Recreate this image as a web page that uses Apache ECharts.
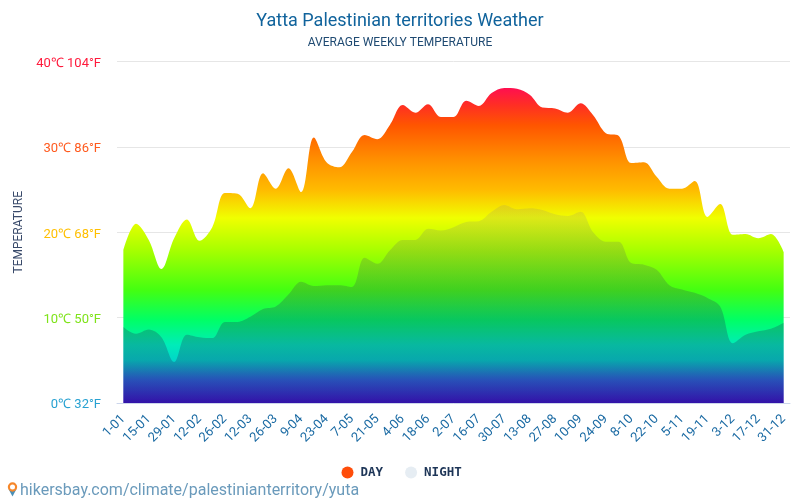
<!DOCTYPE html>
<html><head><meta charset="utf-8">
<style>html,body{margin:0;padding:0;background:#fff}#c{width:800px;height:500px}</style>
<script src="https://cdn.jsdelivr.net/npm/echarts@6/dist/echarts.min.js"></script>
</head><body><div id="c"></div>
<script>
const categories = ['1-01','8-01','15-01','22-01','29-01','5-02','12-02','19-02','26-02','5-03','12-03','19-03','26-03','2-04','9-04','16-04','23-04','30-04','7-05','14-05','21-05','28-05','4-06','11-06','18-06','25-06','2-07','9-07','16-07','23-07','30-07','6-08','13-08','20-08','27-08','3-09','10-09','17-09','24-09','1-10','8-10','15-10','22-10','29-10','5-11','12-11','19-11','26-11','3-12','10-12','17-12','24-12','31-12'];
const dayValues = [17.9,21.0,19.1,15.7,19.3,21.5,19.0,20.6,24.6,24.5,22.8,26.9,25.1,27.5,24.7,31.1,28.2,27.6,29.4,31.4,30.9,32.6,34.9,34.0,35.0,33.5,33.5,35.4,34.8,36.3,36.9,36.8,36.1,34.6,34.5,34.0,35.1,33.7,31.6,31.3,28.1,28.2,26.5,25.1,25.1,26.0,21.8,23.3,19.7,19.8,19.3,19.8,17.7];
const nightValues = [8.9,8.1,8.6,7.7,4.8,8.0,7.7,7.6,9.5,9.5,10.1,11.0,11.3,12.7,14.2,13.7,13.8,13.8,13.6,17.0,16.3,17.9,19.1,19.1,20.4,20.2,20.6,21.2,21.3,22.4,23.2,22.7,22.8,22.6,22.1,21.9,22.4,20.0,18.9,18.9,16.4,16.2,15.6,13.8,13.3,12.9,12.3,11.3,7.0,8.0,8.4,8.7,9.4];
const tempTicks = {0:['0℃ 32°F','#27a1d1'],10:['10℃ 50°F','#7fe31a'],20:['20℃ 68°F','#ffbf00'],30:['30℃ 86°F','#ff5a1e'],40:['40℃ 104°F','#ff1a3c']};
const FONT='Roboto';
const dayGrad = new echarts.graphic.LinearGradient(0,0,0,403,[
 {offset:88/403,color:'#ff0f50'},{offset:105/403,color:'#ff2e24'},{offset:125/403,color:'#ff5500'},
 {offset:160/403,color:'#ff9000'},{offset:190/403,color:'#ffbb00'},{offset:218/403,color:'#f0ff00'},
 {offset:250/403,color:'#a8ff00'},{offset:290/403,color:'#44ff11'},{offset:320/403,color:'#00ff66'},
 {offset:345/403,color:'rgb(0,236,185)'},{offset:360/403,color:'rgb(0,215,200)'},{offset:380/403,color:'rgb(41,103,215)'},{offset:1,color:'rgb(55,23,195)'}],true);
const nightGrad = new echarts.graphic.LinearGradient(0,0,0,403,[
 {offset:215/403,color:'rgba(100,90,180,0.13)'},{offset:250/403,color:'rgba(60,40,120,0.16)'},
 {offset:320/403,color:'rgba(36,0,73,0.22)'},{offset:1,color:'rgba(36,0,73,0.22)'}],true);
const chart = echarts.init(document.getElementById('c'),null,{renderer:'canvas'});
chart.setOption({
 animation:false,
 textStyle:{fontFamily:FONT},
 title:[
  {text:'Yatta Palestinian territories Weather',left:'center',top:7,textStyle:{fontFamily:FONT,fontSize:18,fontWeight:'normal',color:'#10639c'}},
  {text:'AVERAGE WEEKLY TEMPERATURE',left:'center',top:32,textStyle:{fontFamily:FONT,fontSize:12,fontWeight:'normal',color:'#1f4a72'}}
 ],
 legend:{left:336.5,top:461,itemWidth:12,itemHeight:12,itemGap:22,icon:'circle',
  textStyle:{fontFamily:'DejaVu Sans Mono',fontWeight:'bold',fontSize:12.5,color:'#1d3557',padding:[0,0,0,2]},
  data:[{name:'DAY',itemStyle:{color:'#ff4d0a'}},{name:'NIGHT',itemStyle:{color:'#e6edf3'}}]},
 grid:{left:117,right:10,top:61.5,bottom:97,containLabel:false,outerBoundsMode:'none'},
 xAxis:{type:'category',boundaryGap:true,data:categories,
  axisLine:{lineStyle:{color:'#ccd6eb',width:1}},
  axisTick:{alignWithLabel:true,interval:1,length:10,lineStyle:{color:'#ccd6eb'}},
  axisLabel:{interval:1,rotate:45,fontFamily:FONT,fontSize:13,color:'#1a6aa3',margin:14,hideOverlap:false},
  splitLine:{show:false}},
 yAxis:{type:'value',min:0,max:40,interval:10,
  name:'TEMPERATURE',nameLocation:'middle',nameGap:86,nameRotate:90,
  nameTextStyle:{fontFamily:FONT,fontSize:12,color:'#3a4b6b'},
  axisLine:{show:false},axisTick:{show:false},
  splitLine:{lineStyle:{color:'#e6e6e6',width:1}},
  axisLabel:{margin:16,fontFamily:FONT,fontSize:13,
   formatter:v=>'{t'+v+'|'+tempTicks[v][0]+'}',
   rich:Object.fromEntries(Object.keys(tempTicks).map(k=>['t'+k,{color:tempTicks[k][1],fontFamily:FONT,fontSize:13,padding:[4,0,0,0]}]))}},
 series:[
  {name:'DAY',type:'line',data:dayValues,smooth:0.35,showSymbol:false,lineStyle:{width:0},itemStyle:{color:'#ff4d0a'},areaStyle:{color:dayGrad,opacity:1},z:2},
  {name:'NIGHT',type:'line',data:nightValues,smooth:0.35,showSymbol:false,lineStyle:{width:0},itemStyle:{color:'#e6edf3'},areaStyle:{color:nightGrad,opacity:1},z:3}
 ],
 graphic:[
  {type:'polygon',shape:{points:[[8.5,489],[16.5,489],[12.5,496.5]]},style:{fill:'#4a8fb5'}},
  {type:'circle',shape:{cx:12.5,cy:487,r:3.6},style:{fill:'#fff',stroke:'#f6872a',lineWidth:2.2}},
  {type:'text',left:20,top:483,style:{text:'hikersbay.com/climate/palestinianterritory/yuta',fontFamily:FONT,fontSize:16,fill:'#6a9abb'}}
 ]
});
</script></body></html>
